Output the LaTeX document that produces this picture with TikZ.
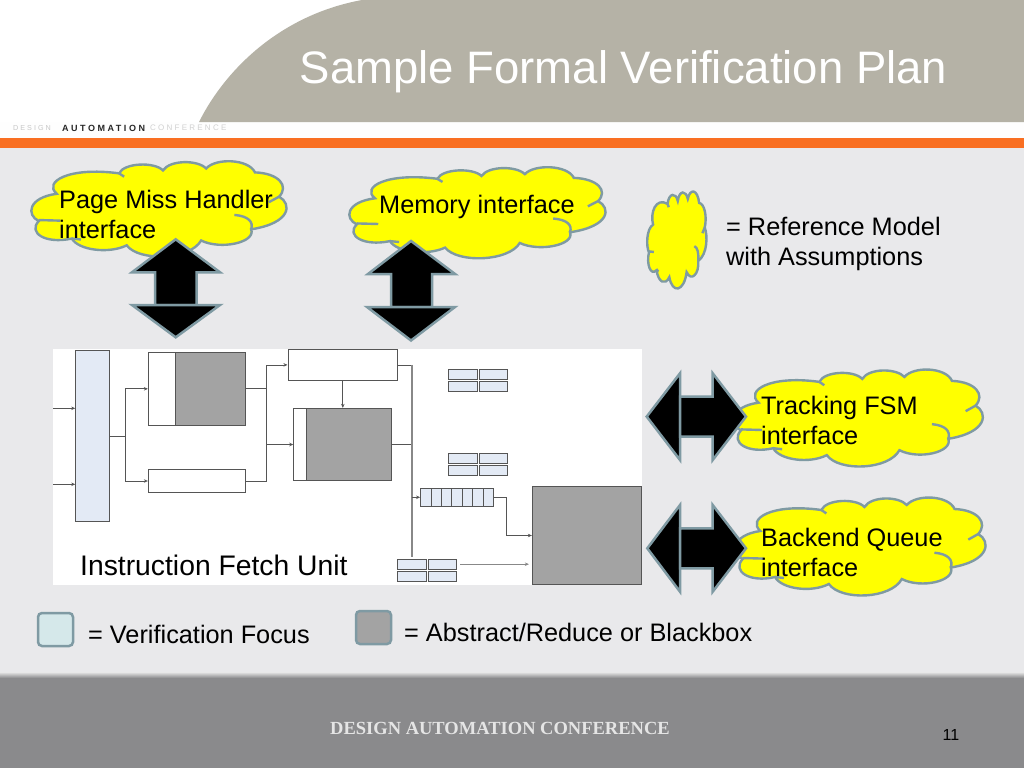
\documentclass[tikz,border=0pt]{standalone}
\usepackage{fontspec}
\setmainfont{Liberation Sans}
\newfontfamily\logofont[LetterSpace=28]{Liberation Sans}
\newfontfamily\footfont{Liberation Serif}
\usepackage{xcolor}
\usetikzlibrary{arrows.meta}
\definecolor{bodybg}{RGB}{233,233,235}
\definecolor{titlebg}{RGB}{181,178,166}
\definecolor{barorange}{RGB}{249,111,34}
\definecolor{footbg}{RGB}{138,138,140}
\definecolor{edgeteal}{RGB}{127,154,163}
\definecolor{focusblue}{RGB}{227,234,245}
\definecolor{legendblue}{RGB}{213,232,234}
\definecolor{blackbox}{RGB}{163,163,163}
\definecolor{wirec}{RGB}{85,85,85}
\definecolor{busgray}{RGB}{136,136,136}
\definecolor{cloudfill}{RGB}{255,255,0}
\tikzset{
  puffline/.style={draw=edgeteal, line width=2.4pt},
  puffcloud/.pic={
    \filldraw[puffline, fill=cloudfill] (2.4,62) .. controls (-2.5,56) and (-2,38) .. (9.5,34)
      .. controls (4,22) and (14,6) .. (34,13)
      .. controls (36,2) and (48,1) .. (51.3,10)
      .. controls (54,-1) and (65,-1) .. (68.3,8)
      .. controls (72,-3) and (85,-2) .. (87.5,12)
      .. controls (97,13) and (101,26) .. (97,37)
      .. controls (102,44) and (102,64) .. (86,70.5)
      .. controls (88,84) and (74,92) .. (66.3,82)
      .. controls (62,102) and (42,104) .. (37,87)
      .. controls (30,96) and (18,92) .. (15.4,80)
      .. controls (5,86) and (-2,74) .. (2.4,62) -- cycle;
    \draw[puffline] (79.4,55.7) .. controls (85,57) and (87,63) .. (86,70.5);
    \draw[puffline] (34,13) -- (36,16.4);
    \draw[puffline] (2.4,61) -- (10.8,61.6);
    \draw[puffline] (97,37) -- (93,42.6);
    \draw[puffline] (15.4,80) -- (19,81);
  },
  bigarrow/.style={fill=black, draw=edgeteal, line width=2.5pt, line join=miter},
  blk/.style={draw=wirec, line width=0.9pt, inner sep=0pt},
  cell/.style={blk, fill=focusblue, minimum width=28.5pt, minimum height=10pt},
  wire/.style={draw=wirec, line width=0.8pt},
  label/.style={inner sep=0pt, anchor=west, align=left, font=\fontsize{25.3}{30}\selectfont},
  legend/.style={draw=edgeteal, line width=2.5pt, rounded corners=4pt, minimum width=35pt, minimum height=33pt, inner sep=0pt}
}
\begin{document}
\begin{tikzpicture}[x=1pt, y=-1pt, >={Stealth[length=4pt,width=3.5pt]}]
  \useasboundingbox (0,0) rectangle (1024,768);
  % slide background
  \fill[white] (0,0) rectangle (1024,122);
  \fill[white!97!bodybg] (0,122) rectangle (1024,138);
  \fill[bodybg] (0,148) rectangle (1024,677);
  \fill[barorange] (0,138) rectangle (1024,148);
  \fill[titlebg] (199,122) .. controls (225,70) and (280,15) .. (362,0) -- (1024,0) -- (1024,122) -- cycle;
  \shade[top color=white!80!footbg, bottom color=footbg] (0,672) rectangle (1024,678);
  \fill[footbg] (0,678) rectangle (1024,768);
  % header and footer text
  \node[anchor=center, inner sep=0pt, text=white, font=\fontsize{45.5}{50}\selectfont] (title) at (623.5,72) {Sample Formal Verification Plan};
  \node[anchor=west, inner sep=0pt, text=black!22, font=\logofont\fontsize{7.2}{8}\selectfont] (logoA) at (13,128) {DESIGN};
  \node[anchor=west, inner sep=0pt, text=black!85, font=\logofont\bfseries\fontsize{9}{10}\selectfont] (logoB) at (62,128) {AUTOMATION};
  \node[anchor=west, inner sep=0pt, text=black!18, font=\logofont\fontsize{8}{9}\selectfont] (logoC) at (150,128) {CONFERENCE};
  \node[anchor=west, inner sep=0pt, text=white!90!black, font=\footfont\bfseries\fontsize{18.5}{20}\selectfont] (footer) at (330,728) {DESIGN AUTOMATION CONFERENCE};
  \node[anchor=center, inner sep=0pt, font=\fontsize{16}{18}\selectfont] (pageno) at (951,735) {11};
  % block diagram panel
  \fill[white] (53,349) rectangle (642,585);
  \node[blk, fill=focusblue, minimum width=33.6pt, minimum height=171.4pt] (tag) at (92.5,436) {};
  \node[blk, fill=white, minimum width=27.4pt, minimum height=73pt] (pmhL) at (162,388.8) {};
  \node[blk, fill=blackbox, minimum width=70pt, minimum height=73pt] (pmhR) at (210.7,388.8) {};
  \node[blk, fill=white, minimum width=97.4pt, minimum height=23.4pt] (lower) at (197,481) {};
  \node[blk, fill=white, minimum width=109.7pt, minimum height=31.7pt] (ctrl) at (342.8,364.9) {};
  \node[blk, fill=white, minimum width=12.6pt, minimum height=72.4pt] (tlbL) at (300,444.5) {};
  \node[blk, fill=blackbox, minimum width=84.7pt, minimum height=72.4pt] (tlbR) at (348.6,444.5) {};
  \node[blk, fill=blackbox, minimum width=109.4pt, minimum height=98.4pt] (big) at (587,535.5) {};
  % small register groups
  \foreach \name/\x/\y in {ga1/462.7/374.3, ga2/493.5/374.3, ga3/462.7/386.2, ga4/493.5/386.2,
                           gb1/462.7/458.4, gb2/493.5/458.4, gb3/462.7/470.2, gb4/493.5/470.2,
                           gc1/411.8/564.2, gc2/442.6/564.2, gc3/411.8/576, gc4/442.6/576}
    \node[cell] (\name) at (\x,\y) {};
  % queue
  \foreach \i/\x in {1/425.8, 2/436.3, 3/446.5, 4/457, 5/467.5, 6/478, 7/488.6}
    \node[blk, fill=focusblue, minimum width=10.5pt, minimum height=18pt] (q\i) at (\x,497.3) {};
  % wires
  \coordinate (inA) at (53,408.3);
  \coordinate (inB) at (53,484.3);
  \coordinate (split) at (125.7,436);
  \coordinate (busA) at (266.3,364.9);
  \coordinate (busB) at (411.7,364.9);
  \coordinate (busEnd) at (411.7,556.7);
  \coordinate (qTurn) at (506.7,497.3);
  \draw[wire, ->] (inA) -- (inA -| tag.west);
  \draw[wire, ->] (inB) -- (inB -| tag.west);
  \draw[wire] (tag.east |- split) -- (split);
  \draw[wire, ->] (split) |- (pmhL.west);
  \draw[wire, ->] (split) |- (lower.west);
  \draw[wire] (pmhR.east) -- (pmhR.east -| busA);
  \draw[wire] (lower.east) -| (busA);
  \draw[wire, ->] (busA) -- (ctrl.west);
  \draw[wire, ->] (busA |- tlbL.west) -- (tlbL.west);
  \draw[wire, ->] (ctrl.south) -- (ctrl.south |- tlbR.north);
  \draw[wire] (ctrl.east) -- (busB);
  \draw[wire] (tlbR.east) -- (tlbR.east -| busB);
  \draw[draw=busgray, line width=1.6pt] (busB) -- (busEnd);
  \draw[wire, ->] (busB |- q1.west) -- (q1.west);
  \draw[wire] (q7.east) -- (qTurn);
  \draw[wire, ->] (qTurn) |- (big.west);
  \draw[wire, ->, draw=busgray, shorten <=3pt, shorten >=3pt] (gc2.east) -- (gc2.east -| big.west);
  % clouds
  \pic[xscale=2.54, yscale=0.973] (cloudPage) at (32.7,160.7) {puffcloud};
  \pic[xscale=2.55, yscale=0.93] (cloudMem) at (350.7,166.7) {puffcloud};
  \pic[xscale=0.59, yscale=0.99] (cloudRef) at (647.5,191) {puffcloud};
  \pic[xscale=2.48, yscale=0.99] (cloudFsm) at (735,369) {puffcloud};
  \pic[xscale=2.49, yscale=1] (cloudQueue) at (736.7,497) {puffcloud};
  % block arrows
  \filldraw[bigarrow] (175.7,239.3) -- (220,272.3) -- (196.7,272.3) -- (196.7,305) -- (155,305) -- (155,272.3) -- (132,272.3) -- cycle;
  \filldraw[bigarrow] (132,305) -- (220,305) -- (175.7,337.3) -- cycle;
  \filldraw[bigarrow] (411,241) -- (455,274) -- (432,274) -- (432,307) -- (391,307) -- (391,274) -- (368,274) -- cycle;
  \filldraw[bigarrow] (367,307) -- (455,307) -- (411,340.5) -- cycle;
  \filldraw[bigarrow] (646.7,416.6) -- (680,373.3) -- (680,460) -- cycle;
  \filldraw[bigarrow] (746,416.6) -- (712.7,373.3) -- (712.7,396.7) -- (680,396.7) -- (680,436.7) -- (712.7,436.7) -- (712.7,460) -- cycle;
  \filldraw[bigarrow] (647.3,548.3) -- (680,505) -- (680,591.7) -- cycle;
  \filldraw[bigarrow] (746,548.3) -- (712.7,505) -- (712.7,528.3) -- (680,528.3) -- (680,568.3) -- (712.7,568.3) -- (712.7,591.7) -- cycle;
  % labels
  \node[label] (txtPage) at (59,214.5) {Page Miss Handler\\interface};
  \node[label] (txtMem) at (379,206.5) {Memory interface};
  \node[label] (txtRef) at (726,244) {= Reference Model\\with Assumptions};
  \node[label] (txtFsm) at (761,420) {Tracking FSM\\interface};
  \node[label] (txtQueue) at (761,552) {Backend Queue\\interface};
  \node[label, font=\fontsize{28.3}{32}\selectfont] (txtUnit) at (80,565) {Instruction Fetch Unit};
  % legend
  \node[legend, fill=legendblue] (keyFocus) at (55.5,629.5) {};
  \node[legend, fill=blackbox] (keyBlack) at (373.5,627.5) {};
  \node[label] (txtFocus) at (88,634) {= Verification Focus};
  \node[label] (txtBlack) at (404,632) {= Abstract/Reduce or Blackbox};
\end{tikzpicture}
\end{document}
